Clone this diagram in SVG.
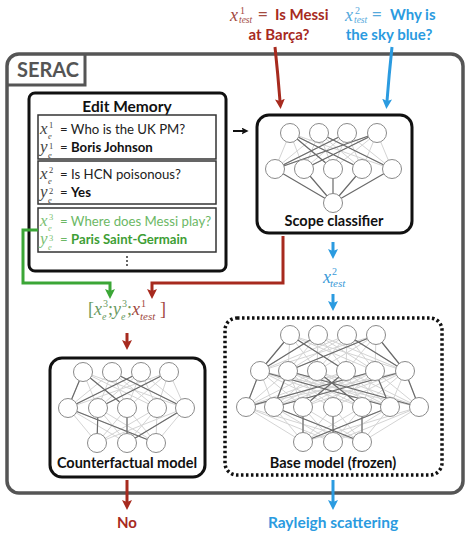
<svg xmlns="http://www.w3.org/2000/svg" width="474" height="537" viewBox="0 0 474 537">
<style>
.b{font-family:Lato,"Open Sans","Liberation Sans",sans-serif;font-weight:700}
.t{font-family:Lato,"Open Sans","Liberation Sans",sans-serif;font-size:13.2px;font-style:normal;fill:#222}
.lbl{font-family:Lato,"Open Sans","Liberation Sans",sans-serif;font-size:14.5px;font-weight:700;fill:#111;text-anchor:middle}
.m{font-family:"Liberation Serif","DejaVu Serif",serif;font-style:italic}
.n{font-style:normal}
.light{fill:none;stroke:#d4d4d4;stroke-width:1}
.dark{fill:none;stroke:#6a6a6a;stroke-width:1.2}
.node{fill:#fff;stroke:#8a8a8a;stroke-width:1}
.box{fill:#fff;stroke:#111;stroke-width:3}
.entry{fill:#fff;stroke:#333;stroke-width:1.5}
.red{fill:none;stroke:#a72a1e;stroke-width:3}
.blue{fill:none;stroke:#2b9be0;stroke-width:3}
.green{fill:none;stroke:#3ba636;stroke-width:3}
</style>
<defs>
<marker id="aR" viewBox="0 0 10 10" refX="2" refY="5" markerWidth="10" markerHeight="10" markerUnits="userSpaceOnUse" orient="auto"><path d="M0 0L10 5L0 10L2 5z" fill="#a72a1e"/></marker>
<marker id="aB" viewBox="0 0 10 10" refX="2" refY="5" markerWidth="10" markerHeight="10" markerUnits="userSpaceOnUse" orient="auto"><path d="M0 0L10 5L0 10L2 5z" fill="#2b9be0"/></marker>
<marker id="aG" viewBox="0 0 10 10" refX="2" refY="5" markerWidth="10" markerHeight="10" markerUnits="userSpaceOnUse" orient="auto"><path d="M0 0L10 5L0 10L2 5z" fill="#3ba636"/></marker>
<marker id="aK" viewBox="0 0 10 10" refX="2" refY="5" markerWidth="7" markerHeight="7" markerUnits="userSpaceOnUse" orient="auto"><path d="M0 0L10 5L0 10L2 5z" fill="#111"/></marker>
</defs>
<rect width="474" height="537" fill="#fff"/>

<g id="serac">
<rect x="7" y="54" width="456" height="439" rx="12" fill="#fff" stroke="#555" stroke-width="3.5"/>
<path d="M7 85H85V54" fill="none" stroke="#555" stroke-width="3"/>
<text x="17" y="77" class="b" font-size="20" fill="#555">SERAC</text>
</g>

<g id="inputs">
<text class="m" font-size="18" fill="#a34a3f"><tspan x="230" y="21">x</tspan><tspan x="240" y="14" class="n" font-size="10">1</tspan><tspan x="239" y="23" font-size="9.5">test</tspan><tspan x="258" y="20" class="n" font-size="17" font-weight="700">=</tspan></text>
<text x="275" y="20" class="b" font-size="15" fill="#a72a1e">Is Messi</text>
<text x="279" y="40" class="b" font-size="15" fill="#a72a1e" text-anchor="middle">at Barça?</text>
<text class="m" font-size="18" fill="#55a9dc"><tspan x="345" y="21">x</tspan><tspan x="355" y="14" class="n" font-size="10">2</tspan><tspan x="354" y="23" font-size="9.5">test</tspan><tspan x="372" y="20" class="n" font-size="17" font-weight="700">=</tspan></text>
<text x="390" y="20" class="b" font-size="15" fill="#2b9be0">Why is</text>
<text x="389" y="40" class="b" font-size="15" fill="#2b9be0" text-anchor="middle">the sky blue?</text>
</g>

<g id="edit-memory">
<rect x="29" y="93" width="197" height="178" rx="6" class="box"/>
<text x="127" y="112" class="b" font-size="15.5" fill="#111" text-anchor="middle">Edit Memory</text>
<rect x="38" y="115" width="178" height="44" class="entry"/>
<text class="m" font-size="17" fill="#444"><tspan x="40" y="134">x</tspan><tspan x="49" y="128" class="n" font-size="8.5">1</tspan><tspan x="48" y="139" font-size="8.5">e</tspan><tspan x="60" y="134" class="t">= Who is the UK PM?</tspan></text>
<text class="m" font-size="17" fill="#444"><tspan x="40" y="152">y</tspan><tspan x="49" y="149" class="n" font-size="8.5">1</tspan><tspan x="48" y="158" font-size="8.5">e</tspan><tspan x="60" y="152" class="t">= <tspan font-weight="700" fill="#111">Boris Johnson</tspan></tspan></text>
<rect x="38" y="161" width="178" height="43" class="entry"/>
<text class="m" font-size="17" fill="#444"><tspan x="40" y="179">x</tspan><tspan x="49" y="173" class="n" font-size="8.5">2</tspan><tspan x="48" y="184" font-size="8.5">e</tspan><tspan x="60" y="179" class="t">= Is HCN poisonous?</tspan></text>
<text class="m" font-size="17" fill="#444"><tspan x="40" y="197">y</tspan><tspan x="49" y="193.5" class="n" font-size="8.5">2</tspan><tspan x="48" y="202.5" font-size="8.5">e</tspan><tspan x="60" y="197" class="t">= <tspan font-weight="700" fill="#111">Yes</tspan></tspan></text>
<rect x="38" y="208" width="178" height="44" class="entry"/>
<text class="m" font-size="17" fill="#7cbf74"><tspan x="40" y="226">x</tspan><tspan x="49" y="220" class="n" font-size="8.5">3</tspan><tspan x="48" y="231" font-size="8.5">e</tspan><tspan x="60" y="226" class="t" style="fill:#6cb865">= Where does Messi play?</tspan></text>
<text class="m" font-size="17" fill="#7cbf74"><tspan x="40" y="244">y</tspan><tspan x="49" y="241" class="n" font-size="8.5">3</tspan><tspan x="48" y="250" font-size="8.5">e</tspan><tspan x="60" y="244" class="t" style="fill:#6cb865">= <tspan font-weight="700" style="fill:#3e9e35">Paris Saint-Germain</tspan></tspan></text>
<circle cx="127" cy="257" r="1" fill="#333"/>
<circle cx="127" cy="261" r="1" fill="#333"/>
<circle cx="127" cy="265" r="1" fill="#333"/>
</g>

<g id="scope-classifier">
<rect x="257" y="115" width="155" height="118" rx="12" class="box"/>
<path class="light" d="M290 133L275 169M290 133L304 169M290 133L333 169M290 133L362 169M290 133L392 169M319 133L275 169M319 133L304 169M319 133L333 169M319 133L362 169M319 133L392 169M347 133L275 169M347 133L304 169M347 133L333 169M347 133L362 169M347 133L392 169M377 133L275 169M377 133L304 169M377 133L333 169M377 133L362 169M377 133L392 169"/>
<path class="dark" d="M290 133L362 169M319 133L392 169M347 133L275 169M377 133L275 169M377 133L304 169M290 133L333 169M275 169L333 203M304 169L333 203M333 169L333 203M362 169L333 203M392 169L333 203"/>
<g class="node">
<circle cx="290" cy="133" r="9.5"/><circle cx="319" cy="133" r="9.5"/><circle cx="347" cy="133" r="9.5"/><circle cx="377" cy="133" r="9.5"/>
<circle cx="275" cy="169" r="9.5"/><circle cx="304" cy="169" r="9.5"/><circle cx="333" cy="169" r="9.5"/><circle cx="362" cy="169" r="9.5"/><circle cx="392" cy="169" r="9.5"/>
<circle cx="333" cy="203" r="9.5"/>
</g>
<text x="334" y="226" class="lbl">Scope classifier</text>
</g>

<g id="counterfactual-model">
<rect x="50" y="358" width="155" height="119" rx="12" class="box"/>
<path class="light" d="M83 372L68 408M83 372L98 408M83 372L127 408M83 372L157 408M83 372L185 408M112 372L68 408M112 372L98 408M112 372L127 408M112 372L157 408M112 372L185 408M141 372L68 408M141 372L98 408M141 372L127 408M141 372L157 408M141 372L185 408M169 372L68 408M169 372L98 408M169 372L127 408M169 372L157 408M169 372L185 408M68 408L97 443M68 408L127 443M68 408L156 443M98 408L97 443M98 408L127 443M98 408L156 443M127 408L97 443M127 408L127 443M127 408L156 443M157 408L97 443M157 408L127 443M157 408L156 443M185 408L97 443M185 408L127 443M185 408L156 443"/>
<path class="dark" d="M83 372L68 408M112 372L185 408M169 372L98 408M141 372L68 408M83 372L127 408M68 408L156 443M127 408L127 443M98 408L97 443M185 408L127 443"/>
<g class="node">
<circle cx="83" cy="372" r="9.5"/><circle cx="112" cy="372" r="9.5"/><circle cx="141" cy="372" r="9.5"/><circle cx="169" cy="372" r="9.5"/>
<circle cx="68" cy="408" r="9.5"/><circle cx="98" cy="408" r="9.5"/><circle cx="127" cy="408" r="9.5"/><circle cx="157" cy="408" r="9.5"/><circle cx="185" cy="408" r="9.5"/>
<circle cx="97" cy="443" r="9.5"/><circle cx="127" cy="443" r="9.5"/><circle cx="156" cy="443" r="9.5"/>
</g>
<text x="127" y="468" class="lbl">Counterfactual model</text>
</g>

<g id="base-model">
<rect x="225" y="318" width="217" height="157" rx="12" fill="#fff" stroke="#111" stroke-width="3.5" stroke-dasharray="2.5 2.5"/>
<path class="light" d="M290 335L260 371M290 335L288 371M290 335L317 371M290 335L346 371M290 335L375 371M290 335L405 371M318 335L260 371M318 335L288 371M318 335L317 371M318 335L346 371M318 335L375 371M318 335L405 371M347 335L260 371M347 335L288 371M347 335L317 371M347 335L346 371M347 335L375 371M347 335L405 371M376 335L260 371M376 335L288 371M376 335L317 371M376 335L346 371M376 335L375 371M376 335L405 371
M260 371L246 407M260 371L274 407M260 371L303 407M260 371L333 407M260 371L362 407M260 371L390 407M260 371L419 407
M288 371L246 407M288 371L274 407M288 371L303 407M288 371L333 407M288 371L362 407M288 371L390 407M288 371L419 407
M317 371L246 407M317 371L274 407M317 371L303 407M317 371L333 407M317 371L362 407M317 371L390 407M317 371L419 407
M346 371L246 407M346 371L274 407M346 371L303 407M346 371L333 407M346 371L362 407M346 371L390 407M346 371L419 407
M375 371L246 407M375 371L274 407M375 371L303 407M375 371L333 407M375 371L362 407M375 371L390 407M375 371L419 407
M405 371L246 407M405 371L274 407M405 371L303 407M405 371L333 407M405 371L362 407M405 371L390 407M405 371L419 407
M246 407L303 442M246 407L333 442M246 407L362 442M274 407L303 442M274 407L333 442M274 407L362 442M303 407L303 442M303 407L333 442M303 407L362 442M333 407L303 442M333 407L333 442M333 407L362 442M362 407L303 442M362 407L333 442M362 407L362 442M390 407L303 442M390 407L333 442M390 407L362 442M419 407L303 442M419 407L333 442M419 407L362 442"/>
<path class="dark" d="M290 335L346 371M318 335L260 371M376 335L288 371M347 335L405 371M290 335L260 371M376 335L405 371M260 371L390 407M288 371L419 407M405 371L274 407M375 371L246 407M317 371L362 407M346 371L303 407M260 371L246 407M405 371L419 407M288 371L274 407M375 371L390 407M274 407L362 442M390 407L303 442M303 407L303 442M333 407L333 442M362 407L362 442"/>
<g class="node">
<circle cx="290" cy="335" r="9.5"/><circle cx="318" cy="335" r="9.5"/><circle cx="347" cy="335" r="9.5"/><circle cx="376" cy="335" r="9.5"/>
<circle cx="260" cy="371" r="9.5"/><circle cx="288" cy="371" r="9.5"/><circle cx="317" cy="371" r="9.5"/><circle cx="346" cy="371" r="9.5"/><circle cx="375" cy="371" r="9.5"/><circle cx="405" cy="371" r="9.5"/>
<circle cx="246" cy="407" r="9.5"/><circle cx="274" cy="407" r="9.5"/><circle cx="303" cy="407" r="9.5"/><circle cx="333" cy="407" r="9.5"/><circle cx="362" cy="407" r="9.5"/><circle cx="390" cy="407" r="9.5"/><circle cx="419" cy="407" r="9.5"/>
<circle cx="303" cy="442" r="9.5"/><circle cx="333" cy="442" r="9.5"/><circle cx="362" cy="442" r="9.5"/>
</g>
<text x="333" y="468" class="lbl">Base model (frozen)</text>
</g>

<g id="connectors">
<path class="red" d="M275 47Q278 75 280 101" marker-end="url(#aR)"/>
<path class="blue" d="M392 47Q389 75 387 101" marker-end="url(#aB)"/>
<path d="M233 131H243" fill="none" stroke="#111" stroke-width="2" marker-end="url(#aK)"/>
<path class="red" d="M283 236V283H152V291" marker-end="url(#aR)"/>
<path class="green" d="M38 230H23V283H110V291" marker-end="url(#aG)"/>
<path class="red" d="M127 333V342" marker-end="url(#aR)"/>
<path class="blue" d="M333 242V251" marker-end="url(#aB)"/>
<path class="blue" d="M333 294V303" marker-end="url(#aB)"/>
<path class="red" d="M127 480V502" marker-end="url(#aR)"/>
<path class="blue" d="M333 480V502" marker-end="url(#aB)"/>
</g>

<g id="formula">
<text class="m" font-size="18" fill="#6a9a5f"><tspan x="88" y="315" class="n">[</tspan><tspan x="94" y="315">x</tspan><tspan x="103" y="307" class="n" font-size="10">3</tspan><tspan x="102" y="320" font-size="10">e</tspan><tspan x="108" y="315" class="n">;</tspan><tspan x="113" y="315">y</tspan><tspan x="122" y="307" class="n" font-size="10">3</tspan><tspan x="121" y="320" font-size="10">e</tspan><tspan x="127" y="315" class="n">;</tspan><tspan x="132" y="315" fill="#a0483e">x</tspan><tspan x="141" y="307" class="n" font-size="10" fill="#a0483e">1</tspan><tspan x="140" y="320" font-size="11" fill="#a0483e">test</tspan><tspan x="160" y="315" class="n" fill="#a0483e">]</tspan></text>
</g>

<g id="xtest2">
<text class="m" font-size="18" fill="#3a9ad8"><tspan x="323" y="283">x</tspan><tspan x="332" y="275" class="n" font-size="10">2</tspan><tspan x="330" y="287" font-size="11">test</tspan></text>
</g>

<g id="outputs">
<text x="127" y="528" class="b" font-size="15" fill="#a72a1e" text-anchor="middle">No</text>
<text x="333" y="528" class="b" font-size="15.5" fill="#2b9be0" text-anchor="middle">Rayleigh scattering</text>
</g>
</svg>
